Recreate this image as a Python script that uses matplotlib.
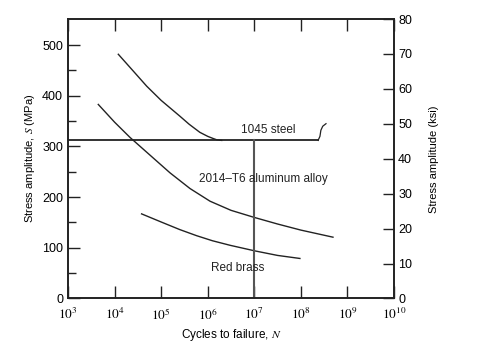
# S-N fatigue curves: 1045 steel, 2014-T6 aluminum alloy, red brass
import numpy as np
import matplotlib.pyplot as plt
from matplotlib.ticker import FixedLocator

plt.rcParams['font.family'] = ['Liberation Sans', 'DejaVu Sans']
plt.rcParams['mathtext.fontset'] = 'stix'

# log10(cycles) and stress amplitude (MPa)
steel_logn = [4.08, 4.40, 4.69, 5.00, 5.40, 5.60, 5.83, 6.00, 6.11, 6.20, 6.30]
steel_s = [482, 449, 419, 391, 360, 344, 328, 320, 316, 313, 312]

endurance_s = 312            # horizontal line, 1045 steel fatigue limit
endurance_logn = [3.0, 8.37]
break_logn = [8.37, 8.41, 8.43, 8.47, 8.54]
break_s = [312, 320, 332, 340, 345]

alu_logn = [3.65, 4.00, 4.33, 4.76, 5.19, 5.62, 6.05, 6.50, 7.00, 7.50, 8.00, 8.69]
alu_s = [383, 348, 318, 283, 248, 217, 192, 174, 160, 147, 135, 121]

brass_logn = [4.58, 5.00, 5.40, 5.76, 6.10, 6.48, 7.01, 7.50, 7.98]
brass_s = [167, 151, 136, 124, 114, 105, 94, 85, 79]

marker_logn = 7.0            # vertical line at 10^7 cycles

decades = [3, 4, 5, 6, 7, 8, 9, 10]
mpa_ticks = [0, 100, 200, 300, 400, 500]
ksi_ticks = [0, 10, 20, 30, 40, 50, 60, 70, 80]
ksi_to_mpa = 6.895

ink = '#222222'

fig = plt.figure(figsize=(4.8, 3.54), dpi=100)
ax = fig.add_axes([0.1417, 0.1568, 0.6791, 0.7895])

ax.plot(10 ** np.array(steel_logn), steel_s, color=ink, lw=1.0)
ax.plot(10 ** np.array(endurance_logn), [endurance_s] * 2, color=ink, lw=1.3)
ax.plot(10 ** np.array(break_logn), break_s, color=ink, lw=0.9)
ax.plot(10 ** np.array(alu_logn), alu_s, color=ink, lw=1.0)
ax.plot(10 ** np.array(brass_logn), brass_s, color=ink, lw=1.0)
ax.plot([10 ** marker_logn] * 2, [0, endurance_s], color='#555555', lw=1.5)

ax.text(10 ** 7.29, 332, '1045 steel', fontsize=8.5, ha='center', va='center', color=ink)
ax.text(10 ** 7.2, 235, '2014\u2013T6 aluminum alloy', fontsize=8.5, ha='center', va='center', color=ink)
ax.text(10 ** 6.65, 60, 'Red brass', fontsize=8.5, ha='center', va='center', color=ink)

ax.set_xscale('log')
ax.set_xlim(1e3, 1e10)
ax.set_ylim(0, 80 * ksi_to_mpa)
ax.xaxis.set_major_locator(FixedLocator([10.0 ** d for d in decades]))
ax.xaxis.set_minor_locator(FixedLocator([]))
ax.set_xticklabels(['$10^{%d}$' % d for d in decades], fontsize=9.5)
ax.set_yticks(mpa_ticks)
ax.set_yticks([50, 150, 250, 350, 450], minor=True)
ax.tick_params(axis='y', labelsize=9)
ax.tick_params(which='major', direction='in', length=8.5, width=1.0, color=ink, top=True)
ax.tick_params(which='minor', axis='y', direction='in', length=5.8, width=1.0, color=ink)
ax.tick_params(axis='x', pad=6)

ax2 = ax.twinx()
ax2.set_ylim(0, 80)
ax2.set_yticks(ksi_ticks)
ax2.tick_params(direction='in', length=8, width=1.0, color=ink, labelsize=9, pad=3)

for a in (ax, ax2):
    for sp in a.spines.values():
        sp.set_linewidth(1.2)
        sp.set_color(ink)

ax.set_xlabel('Cycles to failure, $N$', fontsize=8.5, labelpad=3)
ax.set_ylabel('Stress amplitude, $S$ (MPa)', fontsize=8, labelpad=4)
ax2.set_ylabel('Stress amplitude (ksi)', fontsize=8, labelpad=12)

fig.savefig('out.png', dpi=100)
